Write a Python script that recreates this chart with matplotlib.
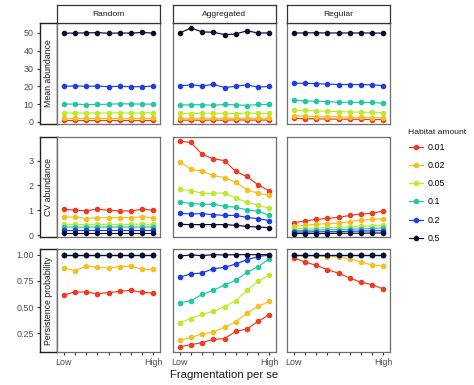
import numpy as np
import matplotlib.pyplot as plt
from matplotlib.lines import Line2D

plt.rcParams['font.family'] = ['Liberation Sans', 'DejaVu Sans']

# data ------------------------------------------------------------------
habitat = ['0.01', '0.02', '0.05', '0.1', '0.2', '0.5']
colors = ['#EE3B22', '#F6BE1F', '#BDEA2F', '#22C8A6', '#1E3EE4', '#0C0C30']
scenarios = ['Random', 'Aggregated', 'Regular']
metrics = ['Mean abundance', 'CV abundance', 'Persistence probability']
frag = np.arange(9)

mean_random = [
    [1.2, 1.2, 1.2, 1.2, 1.2, 1.2, 1.2, 1.2, 1.2],
    [2.4, 2.4, 2.4, 2.4, 2.4, 2.4, 2.4, 2.4, 2.4],
    [5.0, 5.0, 5.0, 5.0, 5.0, 5.0, 5.0, 5.0, 5.1],
    [10.0, 10.0, 9.7, 9.8, 9.9, 10.2, 10.1, 10.0, 10.0],
    [20.0, 20.2, 20.0, 20.1, 19.8, 20.0, 19.8, 19.8, 20.1],
    [49.8, 50.0, 50.0, 50.2, 49.8, 50.0, 49.9, 50.3, 49.9],
]
mean_aggregated = [
    [0.9, 1.0, 0.9, 1.0, 0.9, 1.1, 1.0, 1.0, 1.0],
    [2.0, 2.0, 2.1, 2.0, 2.0, 2.1, 2.0, 2.1, 2.0],
    [4.8, 4.7, 4.9, 4.8, 4.8, 4.7, 4.9, 4.8, 4.8],
    [9.5, 9.6, 9.7, 9.3, 9.8, 9.6, 9.2, 9.8, 9.8],
    [20.2, 20.8, 20.2, 21.1, 19.3, 20.0, 20.8, 19.5, 20.0],
    [50.0, 52.8, 50.6, 50.4, 49.1, 49.4, 51.2, 50.0, 50.0],
]
mean_regular = [
    [2.0, 1.8, 1.7, 1.6, 1.5, 1.5, 1.4, 1.3, 1.3],
    [3.4, 3.2, 3.0, 2.9, 2.8, 2.6, 2.5, 2.4, 2.3],
    [6.7, 6.4, 6.2, 6.0, 5.8, 5.6, 5.4, 5.4, 5.2],
    [12.2, 11.8, 11.6, 11.4, 11.0, 11.0, 10.9, 10.9, 10.5],
    [21.7, 21.7, 21.5, 21.2, 21.0, 21.0, 21.0, 20.8, 20.4],
    [50.0, 50.0, 50.1, 50.0, 50.0, 50.0, 50.0, 50.0, 49.9],
]

cv_random = [
    [1.04, 1.00, 0.98, 1.04, 1.00, 0.97, 0.97, 1.04, 1.00],
    [0.71, 0.74, 0.66, 0.70, 0.70, 0.70, 0.70, 0.73, 0.70],
    [0.43, 0.43, 0.42, 0.43, 0.43, 0.42, 0.43, 0.44, 0.43],
    [0.32, 0.32, 0.31, 0.32, 0.32, 0.32, 0.32, 0.32, 0.32],
    [0.20, 0.20, 0.20, 0.20, 0.20, 0.20, 0.20, 0.20, 0.20],
    [0.10, 0.10, 0.10, 0.10, 0.10, 0.10, 0.10, 0.10, 0.10],
]
cv_aggregated = [
    [3.78, 3.73, 3.25, 3.07, 3.00, 2.56, 2.36, 2.02, 1.78],
    [2.95, 2.66, 2.56, 2.40, 2.31, 2.13, 1.82, 1.68, 1.60],
    [1.84, 1.79, 1.68, 1.68, 1.70, 1.48, 1.33, 1.20, 1.08],
    [1.33, 1.27, 1.24, 1.24, 1.16, 1.12, 1.01, 0.96, 0.79],
    [0.87, 0.85, 0.86, 0.82, 0.79, 0.79, 0.71, 0.66, 0.58],
    [0.43, 0.42, 0.42, 0.42, 0.42, 0.39, 0.35, 0.32, 0.30],
]
cv_regular = [
    [0.50, 0.56, 0.63, 0.67, 0.71, 0.79, 0.85, 0.87, 0.97],
    [0.35, 0.39, 0.43, 0.46, 0.48, 0.54, 0.59, 0.63, 0.66],
    [0.25, 0.27, 0.28, 0.30, 0.31, 0.33, 0.35, 0.37, 0.39],
    [0.18, 0.19, 0.20, 0.21, 0.22, 0.23, 0.25, 0.26, 0.28],
    [0.12, 0.12, 0.13, 0.13, 0.14, 0.15, 0.16, 0.17, 0.18],
    [0.06, 0.06, 0.06, 0.06, 0.07, 0.07, 0.07, 0.08, 0.08],
]

pers_random = [
    [0.615, 0.644, 0.644, 0.628, 0.638, 0.650, 0.660, 0.641, 0.635],
    [0.873, 0.848, 0.892, 0.879, 0.873, 0.886, 0.892, 0.860, 0.860],
    [1.0, 1.0, 1.0, 1.0, 1.0, 1.0, 1.0, 1.0, 1.0],
    [1.0, 1.0, 1.0, 1.0, 1.0, 1.0, 1.0, 1.0, 1.0],
    [1.0, 1.0, 1.0, 1.0, 1.0, 1.0, 1.0, 1.0, 1.0],
    [1.0, 1.0, 1.0, 1.0, 1.0, 1.0, 1.0, 1.0, 1.0],
]
pers_aggregated = [
    [0.123, 0.142, 0.161, 0.193, 0.199, 0.269, 0.291, 0.364, 0.428],
    [0.183, 0.212, 0.244, 0.263, 0.307, 0.361, 0.444, 0.507, 0.555],
    [0.352, 0.390, 0.431, 0.460, 0.504, 0.561, 0.659, 0.748, 0.803],
    [0.542, 0.561, 0.621, 0.659, 0.710, 0.755, 0.832, 0.886, 0.959],
    [0.787, 0.816, 0.825, 0.866, 0.879, 0.911, 0.952, 0.981, 0.997],
    [0.987, 0.997, 0.991, 1.0, 0.997, 1.0, 1.0, 1.0, 1.0],
]
pers_regular = [
    [0.971, 0.930, 0.899, 0.857, 0.823, 0.778, 0.737, 0.714, 0.673],
    [0.994, 0.990, 0.990, 0.981, 0.978, 0.962, 0.928, 0.902, 0.895],
    [1.0, 1.0, 1.0, 1.0, 1.0, 1.0, 1.0, 1.0, 1.0],
    [1.0, 1.0, 1.0, 1.0, 1.0, 1.0, 1.0, 1.0, 1.0],
    [1.0, 1.0, 1.0, 1.0, 1.0, 1.0, 1.0, 1.0, 1.0],
    [1.0, 1.0, 1.0, 1.0, 1.0, 1.0, 1.0, 1.0, 1.0],
]

data = [
    [mean_random, mean_aggregated, mean_regular],
    [cv_random, cv_aggregated, cv_regular],
    [pers_random, pers_aggregated, pers_regular],
]
row_ylims = [(-1.2, 55.6), (-0.08, 3.95), (0.072, 1.054)]
row_yticks = [[0, 10, 20, 30, 40, 50], [0, 1, 2, 3], [0.25, 0.50, 0.75, 1.00]]
row_yfmt = ['{:.0f}', '{:.0f}', '{:.2f}']

# layout in pixels ------------------------------------------------------
W, H = 474, 385
fig = plt.figure(figsize=(W / 100, H / 100), dpi=100)


def px_axes(x0, y0, x1, y1):
    return fig.add_axes([x0 / W, 1 - y1 / H, (x1 - x0) / W, (y1 - y0) / H])


col_x = [(57, 160), (173, 276), (287, 390)]
row_y = [(23, 124), (137, 237), (249, 352)]
tick_col = '#4D4D4D'
border_col = '#6E6E6E'
fs = 6.1

for r in range(3):
    y0, y1 = row_y[r]
    # left strip carrying the y axis
    sax = px_axes(40, y0, 57, y1)
    sax.set_ylim(row_ylims[r])
    sax.set_xticks([])
    sax.set_yticks(row_yticks[r])
    sax.set_yticklabels([row_yfmt[r].format(v) for v in row_yticks[r]])
    sax.tick_params(axis='y', length=2.5, width=0.8, color='#333333',
                    labelsize=fs + 0.3, labelcolor=tick_col, pad=2)
    for sp in sax.spines.values():
        sp.set_color('#222222')
        sp.set_linewidth(1.0)
    sax.text(0.5, 0.5, metrics[r], rotation=90, ha='center', va='center',
             fontsize=fs + 0.2, color='#1A1A1A', transform=sax.transAxes)

    for c in range(3):
        x0, x1 = col_x[c]
        ax = px_axes(x0, y0, x1, y1)
        for k in range(len(habitat)):
            ax.plot(frag, data[r][c][k], color=colors[k], lw=0.85,
                    marker='o', ms=3.0, mec=colors[k], zorder=2 + k)
        ax.set_xlim(-0.6, 8.6)
        ax.set_ylim(row_ylims[r])
        ax.set_yticks([])
        for sp in ax.spines.values():
            sp.set_color(border_col)
            sp.set_linewidth(0.9)
        if r == 2:
            ax.set_xticks(frag)
            ax.set_xticklabels(['Low'] + [''] * 7 + ['High'])
            ax.tick_params(axis='x', length=2.5, width=0.8, color='#333333',
                           labelsize=fs + 0.3, labelcolor=tick_col, pad=2)
        else:
            ax.set_xticks([])

        if r == 0:
            tax = px_axes(x0, 5, x1, 23)
            tax.set_xticks([])
            tax.set_yticks([])
            for sp in tax.spines.values():
                sp.set_color('#333333')
                sp.set_linewidth(0.9)
            tax.text(0.5, 0.5, scenarios[c], ha='center', va='center',
                     fontsize=fs, color='#1A1A1A', transform=tax.transAxes)

fig.text(224 / W, 1 - 375 / H, 'Fragmentation per se', ha='center',
         va='center', fontsize=8.2, color='#1A1A1A')

# legend
fig.text(408 / W, 1 - 133 / H, 'Habitat amount', ha='left', va='center',
         fontsize=fs, color='#1A1A1A')
handles = [Line2D([], [], color=colors[k], lw=0.85, marker='o', ms=3.0)
           for k in range(len(habitat))]
fig.legend(handles, habitat, loc='upper left',
           bbox_to_anchor=(409 / W, 1 - 143 / H), frameon=False,
           fontsize=fs + 0.3, handlelength=1.6, labelspacing=1.03,
           handletextpad=0.5, borderaxespad=0, borderpad=0)

fig.savefig('out.png', dpi=100)
